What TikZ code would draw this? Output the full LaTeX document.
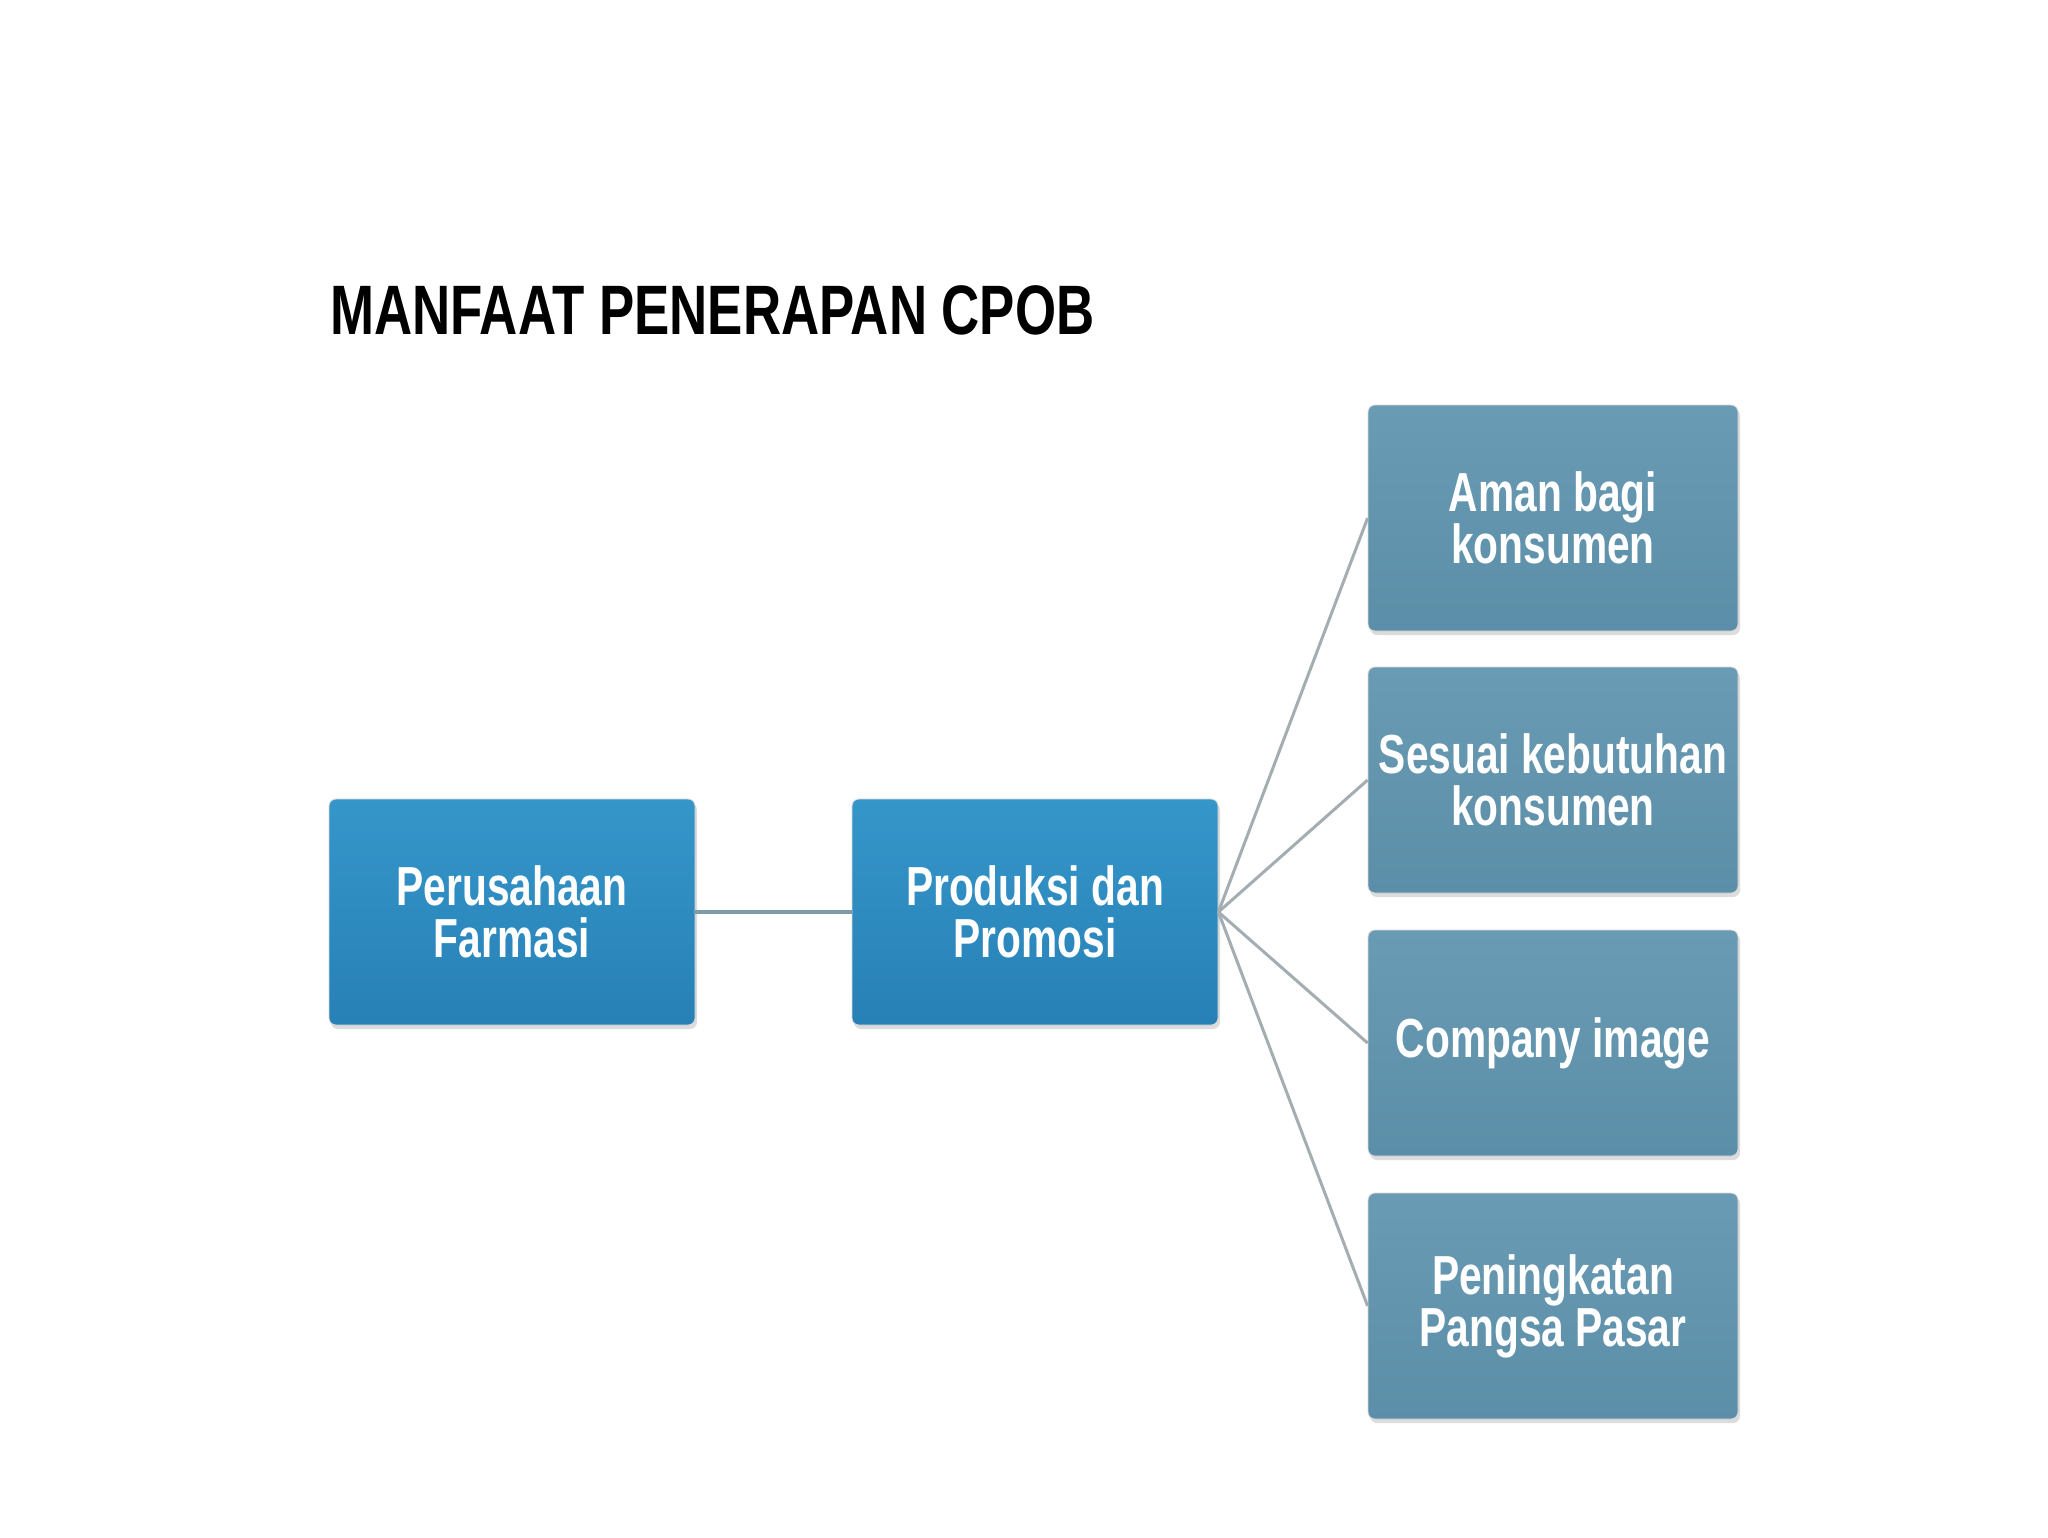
\documentclass[tikz,border=0pt]{standalone}
\usepackage{fontspec}
\setmainfont{Liberation Sans}
\newfontfamily\titlefont[FakeStretch=0.755]{Liberation Sans}
\newfontfamily\boxfont[FakeStretch=0.74]{Liberation Sans}
\usetikzlibrary{shadows}
\definecolor{bluetop}{HTML}{3596CA}
\definecolor{bluebot}{HTML}{2780B6}
\definecolor{steeltop}{HTML}{6A9BB4}
\definecolor{steelbot}{HTML}{5B8EA8}
\definecolor{connA}{HTML}{7F9BA6}
\definecolor{connB}{HTML}{A3ADB2}
\tikzset{
  basebox/.style={rectangle, rounded corners=7pt, minimum height=226pt,
    align=center, text=white, inner sep=4pt,
    font=\boxfont\bfseries\fontsize{55}{52}\selectfont,
    drop shadow={shadow xshift=2pt, shadow yshift=-4pt, fill=black!30, opacity=.45},
    draw=black!15, line width=0.8pt},
  bluebox/.style={basebox, top color=bluetop, bottom color=bluebot, minimum width=366pt},
  steelbox/.style={basebox, top color=steeltop, bottom color=steelbot, minimum width=370pt},
  connmain/.style={draw=connA, line width=4pt},
  connfan/.style={draw=connB, line width=3pt}
}
\begin{document}
\begin{tikzpicture}[x=1pt,y=-1pt]
\useasboundingbox (0,0) rectangle (2048,1537);
\fill[white] (0,0) rectangle (2048,1537);
\node[anchor=base west, inner sep=0pt, font=\titlefont\bfseries\fontsize{70}{84}\selectfont] (title) at (330,334) {MANFAAT PENERAPAN CPOB};
\node[bluebox] (pf) at (512,912) {Perusahaan\\Farmasi};
\node[bluebox] (pp) at (1035,912) {Produksi dan\\Promosi};
\node[steelbox] (ab) at (1553,518) {Aman bagi\\konsumen};
\node[steelbox] (sk) at (1553,780) {Sesuai kebutuhan\\konsumen};
\node[steelbox] (ci) at (1553,1043) {Company image};
\node[steelbox] (pa) at (1553,1306) {Peningkatan\\Pangsa Pasar};
\draw[connmain] (pf.east) -- (pp.west);
\draw[connfan] (pp.east) -- (ab.west);
\draw[connfan] (pp.east) -- (sk.west);
\draw[connfan] (pp.east) -- (ci.west);
\draw[connfan] (pp.east) -- (pa.west);
\end{tikzpicture}
\end{document}
